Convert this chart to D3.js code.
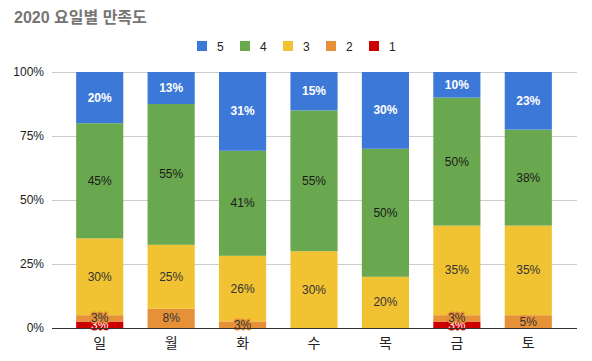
<!DOCTYPE html>
<html><head><meta charset="utf-8">
<script src="https://cdn.jsdelivr.net/npm/d3@7"></script>
<style>body{margin:0;background:#fff;font-family:Arial,"Liberation Sans","Noto Sans CJK KR",sans-serif;}</style>
</head><body><svg id="c" width="592" height="361"></svg>
<script>
const title = "2020 요일별 만족도";
const days = ["일","월","화","수","목","금","토"];
const seriesNames = ["5","4","3","2","1"];
// percentages per day (stack from bottom: 1,2,3,4,5)
const s1 = [2.5, 0, 0, 0, 0, 2.5, 0];
const s2 = [2.5, 7.5, 2.56, 0, 0, 2.5, 5];
const s3 = [30, 25, 25.64, 30, 20, 35, 35];
const s4 = [45, 55, 41.03, 55, 50, 50, 37.5];
const s5 = [20, 12.5, 30.77, 15, 30, 10, 22.5];
const yTicks = [0, 25, 50, 75, 100];
const yTickLabels = ["0%","25%","50%","75%","100%"];
const colors = {"5":"#3c78d8","4":"#6aa84f","3":"#f1c232","2":"#e69138","1":"#cc0000"};
const labelFill = {"5":"#ffffff","4":"#1a1a1a","3":"#333333","2":"#333333","1":"#ffffff"};

const svg = d3.select("#c");
const x = d3.scaleBand().domain(days).range([64,564]).paddingInner(0.34).paddingOuter(0.17);
const y = d3.scaleLinear().domain([0,100]).range([328,72]);

svg.append("text").attr("x",14).attr("y",23).text(title)
  .attr("font-size",16).attr("font-weight","bold").attr("fill","#757575");

// grid
svg.append("g").selectAll("line").data(yTicks.filter(d=>d>0)).join("line")
  .attr("x1",52).attr("x2",577).attr("y1",d=>y(d)).attr("y2",d=>y(d))
  .attr("stroke","#cccccc").attr("stroke-width",1).attr("shape-rendering","crispEdges");
svg.append("g").selectAll("text").data(yTicks).join("text")
  .attr("x",44).attr("y",d=>y(d)+4).attr("text-anchor","end")
  .attr("font-size",12).attr("fill","#222").text((d,i)=>yTickLabels[i]);

const rows = days.map((d,i)=>({day:d,"1":s1[i],"2":s2[i],"3":s3[i],"4":s4[i],"5":s5[i]}));
const stack = d3.stack().keys(["1","2","3","4","5"])(rows);

const g = svg.append("g");
stack.forEach(layer=>{
  g.append("g").selectAll("rect").data(layer).join("rect")
    .attr("x",d=>x(d.data.day)).attr("width",x.bandwidth())
    .attr("y",d=>y(d[1])).attr("height",d=>y(d[0])-y(d[1]))
    .attr("fill",colors[layer.key]);
});
stack.forEach(layer=>{
  g.append("g").selectAll("text").data(layer.filter(d=>d[1]-d[0]>0)).join("text")
    .attr("x",d=>x(d.data.day)+x.bandwidth()/2)
    .attr("y",d=>(y(d[0])+y(d[1]))/2+4)
    .attr("text-anchor","middle").attr("font-size",12)
    .attr("font-weight",layer.key==="5"?"bold":"normal")
    .attr("fill",labelFill[layer.key])
    .attr("stroke",colors[layer.key]).attr("stroke-width",(layer.key==="1"||layer.key==="2")?3:0)
    .attr("paint-order","stroke").attr("stroke-linejoin","round")
    .text(d=>Math.round(d[1]-d[0])+"%");
});

// baseline
svg.append("line").attr("x1",52).attr("x2",577).attr("y1",y(0)+0.5).attr("y2",y(0)+0.5)
  .attr("stroke","#333").attr("stroke-width",1);
svg.append("g").selectAll("text").data(days).join("text")
  .attr("x",d=>x(d)+x.bandwidth()/2).attr("y",348).attr("text-anchor","middle")
  .attr("font-size",14).attr("fill","#222").text(d=>d);

// legend
const lg = svg.append("g");
seriesNames.forEach((s,i)=>{
  const lx = 197 + i*43;
  lg.append("rect").attr("x",lx).attr("y",41).attr("width",10).attr("height",10).attr("fill",colors[s]);
  lg.append("text").attr("x",lx+20).attr("y",50.5).attr("font-size",12).attr("fill","#222").text(s);
});
</script></body></html>
